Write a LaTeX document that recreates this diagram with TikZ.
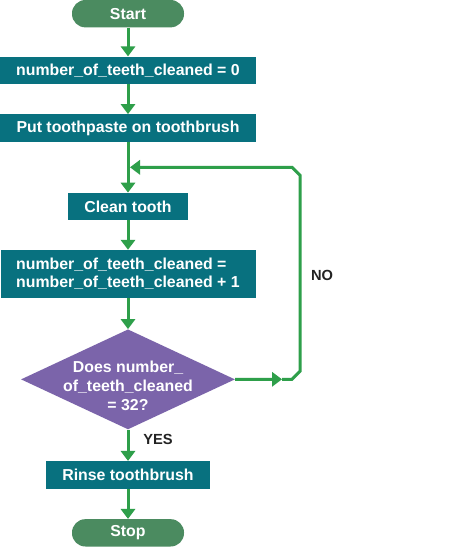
\documentclass[tikz,border=0pt]{standalone}
\usepackage{fontspec}
\setmainfont{Liberation Sans}
\usepackage{xcolor}
\usetikzlibrary{shapes,arrows.meta}
\definecolor{flowgreen}{HTML}{2E9F4A}
\definecolor{boxteal}{HTML}{08717F}
\definecolor{decpurple}{HTML}{7B64AA}
\definecolor{termgreen}{HTML}{4B8B60}
\definecolor{taggray}{HTML}{222222}

\begin{document}
\begin{tikzpicture}[x=0.75pt,y=-0.75pt]

\tikzstyle{flow} = [draw=flowgreen, line width=2.25pt,
   -{Triangle[width=10.7pt,length=7.5pt]}]

\tikzstyle{txt}=[text=white, font=\fontsize{11.9}{13.5}\selectfont\bfseries]
\tikzstyle{proc}=[txt, fill=boxteal, minimum height=20.5pt, inner sep=0pt]
\tikzstyle{term}=[txt, fill=termgreen, rounded corners=10pt,
    minimum width=84pt, minimum height=20.5pt, inner sep=0pt]
\tikzstyle{deci}=[diamond, fill=decpurple, minimum width=160.5pt,
    minimum height=75pt, inner sep=0pt]
\tikzstyle{tag}=[text=taggray, font=\fontsize{11}{13}\selectfont\bfseries]

\fill[white] (0,0) rectangle (464,548);

\node[term] (start) at (128,13.7) {Start};
\node[proc,minimum width=192pt,below of=start,node distance=42.45pt] (zero)
    {number\_of\_teeth\_cleaned = 0};
\node[proc,minimum width=192pt,below of=zero,node distance=43.3pt] (paste)
    {Put toothpaste on toothbrush};
\node[proc,minimum width=89.5pt,below of=paste,node distance=58.9pt] (clean)
    {Clean tooth};
\node[proc,minimum width=191.25pt,minimum height=35.75pt,align=left,
    below of=clean,node distance=50.5pt] (count)
    {number\_of\_teeth\_cleaned =\\number\_of\_teeth\_cleaned + 1};
\node[deci,below of=count,node distance=79.1pt,
    label={[txt,font=\fontsize{11.9}{14.25}\selectfont\bfseries,align=center,yshift=-5pt]center:{Does number\_\\of\_teeth\_cleaned\\= 32?}}] (check) {};
\node[proc,minimum width=122.5pt,below of=check,node distance=71.6pt] (rinse)
    {Rinse toothbrush};
\node[term,below of=rinse,node distance=43.5pt] (stop) {Stop};

\draw[flow] (start) to (zero);
\draw[flow] (zero) to (paste);
\draw[flow] (paste) to (clean);
\draw[flow] (clean) to (count);
\draw[flow] (count) to (check);
\draw[flow] (check) to (rinse);
\draw[flow] (rinse) to (stop);

% loop back when not done
\coordinate (noin) at (282,379.3);
\coordinate (back) at (130,167.3);
\draw[flow] (check) -- (noin);
\draw[flow] (noin) -- ++(10,0) -- ++(8,-8) -- ++(0,-196) -- ++(-8,-8) -- (back);

\node[tag] (no) at (322,275) {NO};
\node[tag] (yes) at (158,439) {YES};

\end{tikzpicture}
\end{document}
